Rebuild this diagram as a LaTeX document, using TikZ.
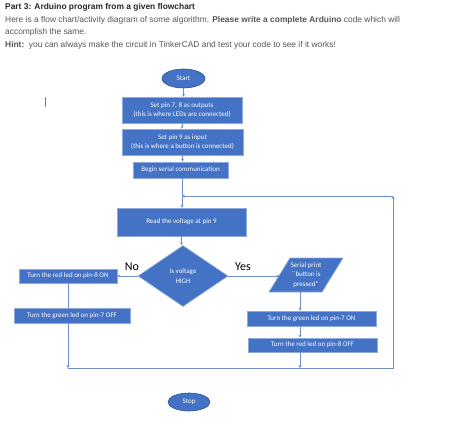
\documentclass[tikz,border=0pt]{standalone}
\usepackage{fontspec}
\setmainfont{Liberation Sans}
\newfontfamily\chartfont{Carlito}
\usetikzlibrary{shapes.geometric,arrows.meta}
\definecolor{fillblue}{HTML}{4472C4}
\definecolor{rimblue}{HTML}{8FAADC}
\definecolor{darkrim}{HTML}{2F528F}
\definecolor{lineblue}{HTML}{6F8FCB}
\definecolor{headtext}{HTML}{555555}
\tikzset{
  box/.style={draw=rimblue, fill=fillblue, text=white, line width=0.6pt, inner sep=1pt, align=center, font=\chartfont\fontsize{7}{9.5}\selectfont},
  terminal/.style={box, ellipse, draw=darkrim},
  decision/.style={box, diamond, inner sep=0pt},
  flow/.style={draw=lineblue, line width=0.8pt, -{Stealth[length=3pt,width=3pt]}},
  plain/.style={draw=lineblue, line width=0.8pt},
  branch/.style={font=\chartfont\fontsize{12}{13}\selectfont, text=black},
  head/.style={anchor=base west, inner sep=0pt, text=headtext, font=\fontsize{8.4}{10}\selectfont}
}
\begin{document}
\begin{tikzpicture}[x=1pt,y=-1pt]
\useasboundingbox (0,0) rectangle (474,429);
\node[head, text=black!85, font=\bfseries\fontsize{8.4}{10}\selectfont] (title) at (5,9) {Part 3: Arduino program from a given flowchart};
\node[head] (intro) at (5,22) {Here is a flow chart/activity diagram of some algorithm. \textbf{Please write a complete Arduino} code which will};
\node[head] (intro2) at (5,34.5) {accomplish the same.};
\node[head] (hint) at (5,47) {\textbf{Hint:}\ \ you can always make the circuit in TinkerCAD and test your code to see if it works!};
\draw[gray, line width=1pt] (45,97) -- (45,107);

\node[terminal, minimum width=43pt, minimum height=19pt] (start) at (183.5,78.5) {Start};
\node[box, minimum width=120pt, minimum height=26pt] (set78) at (182,110) {Set pin 7, 8 as outputs\\(this is where LEDs are connected)};
\node[box, minimum width=121pt, minimum height=26pt] (set9) at (182.5,142) {Set pin 9 as input\\(this is where a button is connected)};
\node[box, minimum width=95pt, minimum height=16pt] (serial) at (180.5,170) {Begin serial communication};
\node[box, minimum width=129pt, minimum height=28pt] (read) at (181.5,222) {Read the voltage at pin 9};
\node[decision, minimum width=90pt, minimum height=61pt] (test) at (183,276) {Is voltage\\HIGH};
\node[box, minimum width=98pt, minimum height=14pt] (redon) at (68,276) {Turn the red led on pin-8 ON};
\node[box, minimum width=116pt, minimum height=15pt] (greenoff) at (72,315.5) {Turn the green led on pin-7 OFF};
\draw[box] (290,258) -- (343,258) -- (322,292) -- (269,292) -- cycle;
\node[box, draw=none, fill=none] (print) at (306,275) {Serial print\\``button is\\pressed''};
\node[box, minimum width=129pt, minimum height=15pt] (greenon) at (311.5,318.5) {Turn the green led on pin-7 ON};
\node[box, minimum width=129pt, minimum height=14pt] (redoff) at (312.5,345) {Turn the red led on pin-8 OFF};
\node[terminal, minimum width=42pt, minimum height=18pt] (stop) at (189,402) {Stop};

\node[branch] (no) at (132,267) {No};
\node[branch] (yes) at (243,267) {Yes};

\coordinate (printleft) at (279.5,276);
\coordinate (printbot) at (300,292);
\coordinate (join) at (182,196);
\coordinate (loopbl) at (68,368);
\coordinate (loopbr) at (393,368);
\coordinate (looptr) at (393,196);

\draw[flow] (start.south) -- (start.south |- set78.north);
\draw[flow] (set78.south) -- (set78.south |- set9.north);
\draw[flow] (set9.south) -- (set9.south |- serial.north);
\draw[flow] (join |- serial.south) -- (join |- read.north);
\draw[flow] (read.south) -- (read.south |- test.north);
\draw[flow] (test.west) -- (redon.east);
\draw[flow] (test.east) -- (printleft);
\draw[plain] (redon.south) -- (redon.south |- greenoff.north);
\draw[flow] (greenoff.south -| loopbl) -- (loopbl);
\draw[flow] (printbot) -- (printbot |- greenon.north);
\draw[flow] (printbot |- greenon.south) -- (printbot |- redoff.north);
\draw[flow] (printbot |- redoff.south) -- (printbot |- loopbr);
\draw[flow] (loopbl) -- (loopbr) -- (looptr);
\draw[flow] (looptr) -- (join);
\end{tikzpicture}
\end{document}
